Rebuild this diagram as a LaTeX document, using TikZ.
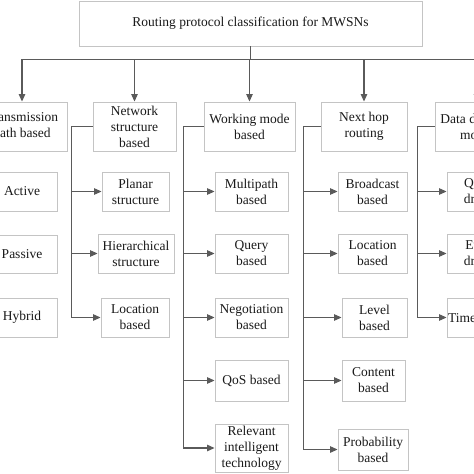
\documentclass[tikz,border=0pt]{standalone}
\usepackage{fontspec}
\setmainfont{Liberation Serif}
\usetikzlibrary{arrows.meta}
\definecolor{linegray}{HTML}{5A5A5A}
\definecolor{boxgray}{HTML}{C4C4C4}
\definecolor{txt}{HTML}{1A1A1A}
\tikzset{
  box/.style={draw=boxgray, line width=0.9pt, fill=white, rectangle, align=center, inner sep=0pt,
    text=txt, font=\fontsize{13.5}{16}\selectfont},
  conn/.style={draw=linegray, line width=1.1pt, -{Triangle[length=7.5pt,width=6.5pt]}},
}
\newcommand{\bx}[6]{\node[box, minimum width=#4pt, minimum height=#5pt] (#1) at (#2,#3) {#6};}
\begin{document}
\begin{tikzpicture}[x=1pt,y=-1pt]
\useasboundingbox (0,0) rectangle (474,474);
\fill[white] (0,0) rectangle (474,474);
\clip (0,0) rectangle (474,474);
% top
\bx{top}{250.5}{23.5}{343}{45}{Routing protocol classification for MWSNs}
% level 1
\bx{T}{22}{126.5}{90}{49}{Transmission\\path based}
\bx{N}{134.5}{126.5}{83}{49}{Network\\structure\\based}
\bx{W}{249.5}{126.5}{91}{49}{Working mode\\based}
\bx{H}{364}{126.5}{86}{49}{Next hop\\routing}
\bx{D}{477}{126.5}{84}{49}{Data delivery\\model}
% col 1
\bx{T1}{22}{191.5}{70}{39}{Active}
\bx{T2}{22}{254}{70}{38}{Passive}
\bx{T3}{22}{317.5}{70}{39}{Hybrid}
% col 2
\bx{N1}{135.5}{191.5}{67}{39}{Planar\\structure}
\bx{N2}{136}{253.5}{76}{39}{Hierarchical\\structure}
\bx{N3}{135}{317.5}{68}{39}{Location\\based}
% col 3
\bx{W1}{251.5}{191.5}{73}{39}{Multipath\\based}
\bx{W2}{251.5}{253.5}{73}{39}{Query\\based}
\bx{W3}{251.5}{317.5}{73}{39}{Negotiation\\based}
\bx{W4}{251.5}{380.5}{73}{41}{QoS based}
\bx{W5}{251.5}{448}{73}{48}{Relevant\\intelligent\\technology}
% col 4
\bx{H1}{372.5}{191.5}{69}{39}{Broadcast\\based}
\bx{H2}{372.5}{253.5}{69}{39}{Location\\based}
\bx{H3}{374.5}{317.5}{65}{39}{Level\\based}
\bx{H4}{373.5}{380.5}{63}{41}{Content\\based}
\bx{H5}{373}{449.5}{70}{41}{Probability\\based}
% col 5
\bx{D1}{481}{191.5}{68}{39}{Query\\driven}
\bx{D2}{481}{253.5}{68}{39}{Event\\driven}
\bx{D3}{481}{317.5}{68}{39}{Time driven}
% top connectors
\foreach \c in {T,N,W,H,D}{
  \draw[conn] (top.south) -- ++(0,13) -| (\c.north);
}
% column connectors
\foreach \c in {T1,T2,T3}{ \draw[conn] (T.west) -- ++(-20,0) |- (\c.west); }
\foreach \c in {N1,N2,N3}{ \draw[conn] (N.west) -- ++(-21,0) |- (\c.west); }
\foreach \c in {W1,W2,W3,W4,W5}{ \draw[conn] (W.west) -- ++(-20,0) |- (\c.west); }
\foreach \c in {H1,H2,H3,H4,H5}{ \draw[conn] (H.west) -- ++(-17,0) |- (\c.west); }
\foreach \c in {D1,D2,D3}{ \draw[conn] (D.west) -- ++(-17,0) |- (\c.west); }
\end{tikzpicture}
\end{document}
